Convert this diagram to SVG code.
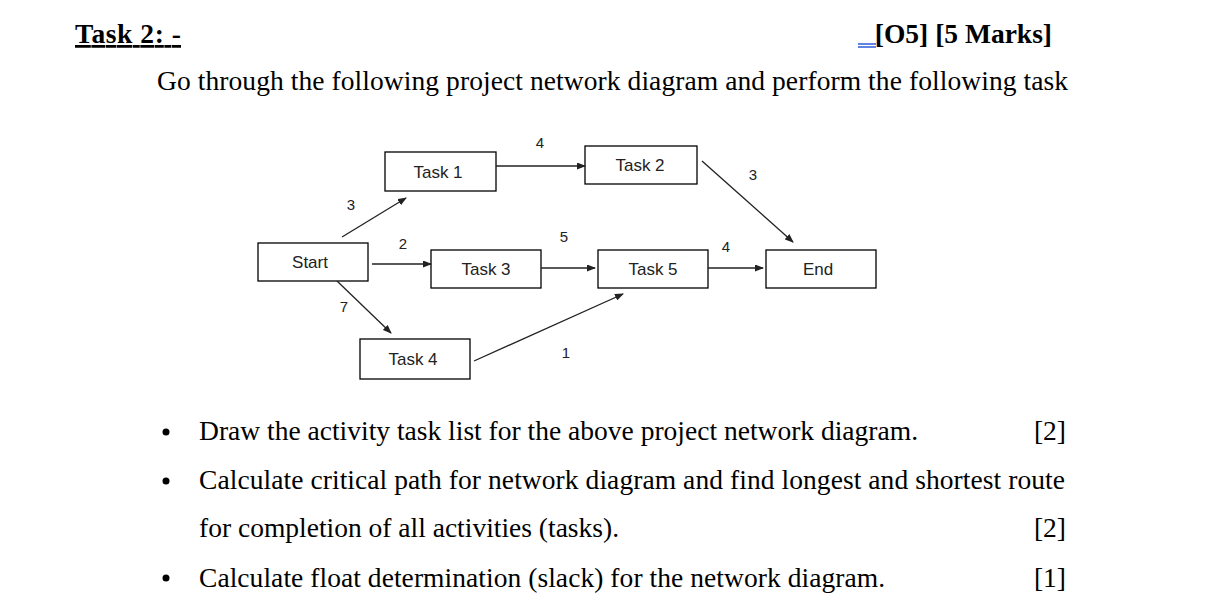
<svg xmlns="http://www.w3.org/2000/svg" width="1206" height="608" viewBox="0 0 1206 608">
<style>
.t{font-family:"Liberation Serif",serif;font-size:27.5px;fill:#000}
.b{font-weight:bold}
.n rect{fill:#fff;stroke:#000;stroke-width:1.3}
.n text,.l{font-family:"Liberation Sans",Arial,sans-serif;font-size:17px;fill:#222}
.n text{text-anchor:middle}
.l{font-size:15px;text-anchor:middle}
#edges line{stroke:#222;stroke-width:1.3;marker-end:url(#ah)}
</style>
<defs><marker id="ah" markerWidth="9" markerHeight="7" refX="8" refY="3.5" orient="auto" markerUnits="userSpaceOnUse"><path d="M0,0L9,3.5L0,7z" fill="#222"/></marker></defs>
<rect width="1206" height="608" fill="#fff"/>
<text class="t b" x="75" y="43" text-decoration="underline" textLength="106" font-size="26">Task 2: -</text>
<line x1="858" y1="44" x2="876" y2="44" stroke="#2a5bd7" stroke-width="1.5"/>
<line x1="858" y1="47" x2="876" y2="47" stroke="#2a5bd7" stroke-width="1.5"/>
<text class="t b" x="1052" y="43" text-anchor="end" font-size="26">[O5] [5 Marks]</text>
<text class="t" x="157" y="90" textLength="911">Go through the following project network diagram and perform the following task</text>
<g id="n-start" class="n"><rect x="258" y="243" width="110" height="38"/><text x="310" y="268">Start</text></g>
<g id="n-task1" class="n"><rect x="385" y="152" width="111" height="39"/><text x="438" y="178">Task 1</text></g>
<g id="n-task2" class="n"><rect x="585" y="146" width="112" height="38"/><text x="640" y="171">Task 2</text></g>
<g id="n-task3" class="n"><rect x="431" y="250" width="110" height="38"/><text x="486" y="275">Task 3</text></g>
<g id="n-task5" class="n"><rect x="598" y="250" width="110" height="38"/><text x="653" y="275">Task 5</text></g>
<g id="n-end" class="n"><rect x="766" y="250" width="110" height="38"/><text x="818" y="275">End</text></g>
<g id="n-task4" class="n"><rect x="360" y="339" width="110" height="40"/><text x="413" y="365">Task 4</text></g>
<g id="edges">
<line x1="342" y1="237" x2="406" y2="198"/>
<line x1="496" y1="166" x2="585" y2="166"/>
<line x1="702" y1="161" x2="793" y2="242"/>
<line x1="372" y1="264" x2="431" y2="264"/>
<line x1="541" y1="268" x2="595" y2="268"/>
<line x1="708" y1="268" x2="763" y2="268"/>
<line x1="337" y1="281" x2="391" y2="333"/>
<line x1="474" y1="361" x2="623" y2="294"/>
</g>
<g id="labels">
<text class="l" x="540" y="148">4</text>
<text class="l" x="753" y="180">3</text>
<text class="l" x="351" y="210">3</text>
<text class="l" x="403" y="249">2</text>
<text class="l" x="564" y="242">5</text>
<text class="l" x="726" y="252">4</text>
<text class="l" x="344" y="312">7</text>
<text class="l" x="566" y="358">1</text>
</g>
<g class="t">
<circle cx="166" cy="432" r="3.5"/><circle cx="166" cy="481" r="3.5"/><circle cx="166" cy="578" r="3.5"/>
<text x="199" y="440" textLength="719">Draw the activity task list for the above project network diagram.</text>
<text x="1066" y="440" text-anchor="end">[2]</text>
<text x="199" y="489" textLength="866">Calculate critical path for network diagram and find longest and shortest route</text>
<text x="199" y="537">for completion of all activities (tasks).</text>
<text x="1066" y="537" text-anchor="end">[2]</text>
<text x="199" y="587" textLength="686">Calculate float determination (slack) for the network diagram.</text>
<text x="1066" y="587" text-anchor="end">[1]</text>
</g>
</svg>
